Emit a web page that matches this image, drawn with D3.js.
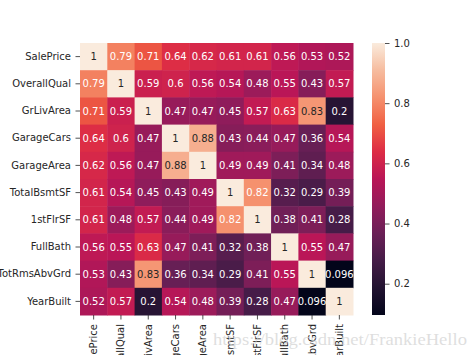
<!DOCTYPE html>
<html><head><meta charset="utf-8">
<script src="https://cdn.jsdelivr.net/npm/d3@7"></script>
<style>html,body{margin:0;padding:0;background:#fff;overflow:hidden}</style>
</head><body>
<svg id="c" width="474" height="355"></svg>
<script>
const labels = ["SalePrice","OverallQual","GrLivArea","GarageCars","GarageArea","TotalBsmtSF","1stFlrSF","FullBath","TotRmsAbvGrd","YearBuilt"];
const row0 = [1,0.79,0.71,0.64,0.62,0.61,0.61,0.56,0.53,0.52];
const row1 = [0.79,1,0.59,0.6,0.56,0.54,0.48,0.55,0.43,0.57];
const row2 = [0.71,0.59,1,0.47,0.47,0.45,0.57,0.63,0.83,0.2];
const row3 = [0.64,0.6,0.47,1,0.88,0.43,0.44,0.47,0.36,0.54];
const row4 = [0.62,0.56,0.47,0.88,1,0.49,0.49,0.41,0.34,0.48];
const row5 = [0.61,0.54,0.45,0.43,0.49,1,0.82,0.32,0.29,0.39];
const row6 = [0.61,0.48,0.57,0.44,0.49,0.82,1,0.38,0.41,0.28];
const row7 = [0.56,0.55,0.63,0.47,0.41,0.32,0.38,1,0.55,0.47];
const row8 = [0.53,0.43,0.83,0.36,0.34,0.29,0.41,0.55,1,0.096];
const row9 = [0.52,0.57,0.2,0.54,0.48,0.39,0.28,0.47,0.096,1];
const rows = [row0,row1,row2,row3,row4,row5,row6,row7,row8,row9];
const cbTicks = [0.2,0.4,0.6,0.8,1.0];
const rocketStops = ["#03051A","#221331","#451C47","#6A1F56","#921C5B","#B91657","#DD2C45","#F06043","#F5916E","#F6BC9F","#FAEBDD"];
const watermark = "https://blog.csdn.net/FrankieHello";

(function(){
const svg = d3.select("#c");
const font = "DejaVu Sans, sans-serif";
const L = 80, R = 353, T = 43, B = 315;
const TK = 4.5, PD = 4.5;
const x = d3.scaleBand().domain(labels).range([L, R]);
const y = d3.scaleBand().domain(labels).range([T, B]);
const vmin = d3.min(rows.flat()), vmax = d3.max(rows.flat());
const rocket = d3.scaleLinear().domain(d3.range(rocketStops.length).map(i => i/(rocketStops.length-1))).range(rocketStops).interpolate(d3.interpolateRgb).clamp(true);
const norm = d3.scaleLinear().domain([vmin, vmax]).range([0,1]);
const color = v => rocket(norm(v));

function lum(c){
  const r = d3.rgb(c);
  const f = u => { u/=255; return u <= 0.03928 ? u/12.92 : Math.pow((u+0.055)/1.055, 2.4); };
  return 0.2126*f(r.r)+0.7152*f(r.g)+0.0722*f(r.b);
}

const cells = [];
rows.forEach((r,i)=>r.forEach((v,j)=>cells.push({i,j,v})));
svg.append("g").selectAll("rect").data(cells).join("rect")
  .attr("x", d=>x(labels[d.j])).attr("y", d=>y(labels[d.i]))
  .attr("width", x.bandwidth()+0.5).attr("height", y.bandwidth()+0.5)
  .attr("fill", d=>color(d.v));
svg.append("g").selectAll("text").data(cells).join("text")
  .attr("x", d=>x(labels[d.j])+x.bandwidth()/2)
  .attr("y", d=>y(labels[d.i])+y.bandwidth()/2)
  .attr("dy","0.35em").attr("text-anchor","middle")
  .attr("font-family", font).attr("font-size", 10)
  .attr("fill", d=> lum(color(d.v)) > 0.408 ? "#262626" : "#ffffff")
  .text(d=> String(d.v));

const yAxis = d3.axisLeft(y).tickSize(TK).tickPadding(PD);
const gy = svg.append("g").attr("transform",`translate(${L},0)`).call(yAxis);
gy.select(".domain").remove();
gy.selectAll("text").attr("font-family",font).attr("font-size",10).attr("fill","#262626");
gy.selectAll("line").attr("stroke","#262626").attr("stroke-width",0.8);

const xAxis = d3.axisBottom(x).tickSize(TK).tickPadding(PD);
const gx = svg.append("g").attr("transform",`translate(0,${B})`).call(xAxis);
gx.select(".domain").remove();
gx.selectAll("line").attr("stroke","#262626").attr("stroke-width",0.8);
gx.selectAll("text").attr("font-family",font).attr("font-size",10).attr("fill","#262626")
  .attr("text-anchor","end").attr("dy","0.35em").attr("y",0)
  .attr("transform",`translate(0,${TK+PD}) rotate(-90)`);

const cbx = 372, cbw = 13;
const cy = d3.scaleLinear().domain([vmin, vmax]).range([B, T]);
const defs = svg.append("defs");
const grad = defs.append("linearGradient").attr("id","cbg").attr("x1",0).attr("y1",1).attr("x2",0).attr("y2",0);
d3.range(0,1.0001,0.05).forEach(t=>{
  grad.append("stop").attr("offset",t).attr("stop-color",rocket(t));
});
svg.append("rect").attr("x",cbx).attr("y",T).attr("width",cbw).attr("height",B-T).attr("fill","url(#cbg)");
const cAxis = d3.axisRight(cy).tickValues(cbTicks).tickFormat(d3.format(".1f")).tickSize(TK).tickPadding(PD);
const gc = svg.append("g").attr("transform",`translate(${cbx+cbw},0)`).call(cAxis);
gc.select(".domain").remove();
gc.selectAll("line").attr("stroke","#262626").attr("stroke-width",0.8);
gc.selectAll("text").attr("font-family",font).attr("font-size",10).attr("fill","#262626");

svg.append("text").attr("x",213).attr("y",345)
  .attr("font-family","Liberation Serif, serif").attr("font-size",17)
  .attr("fill","#d4d4d4").attr("fill-opacity",0.75)
  .attr("textLength",254).attr("lengthAdjust","spacingAndGlyphs")
  .text(watermark);
})();
</script>
</body></html>
